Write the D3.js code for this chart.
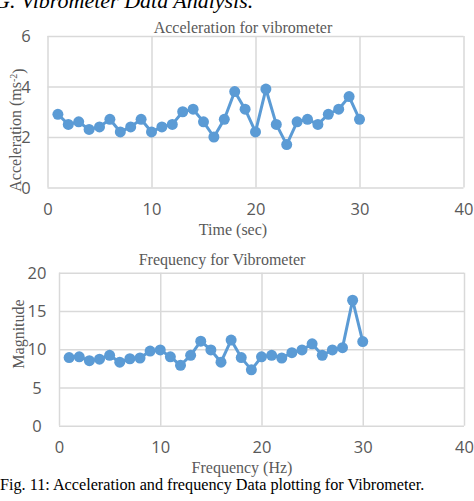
<!DOCTYPE html>
<html>
<head>
<meta charset="utf-8">
<script src="https://cdn.jsdelivr.net/npm/d3@7"></script>
<style>
  body { margin: 0; background: #fff; }
  svg { display: block; }
  .tick text { font-family: "Open Sans", sans-serif; font-size: 16.5px; fill: #595959; }
  .serif { font-family: "Liberation Serif", "Times New Roman", serif; }
</style>
</head>
<body>
<div id="chart"></div>
<script>
const width = 474;
const height = 501;

// acceleration (ms^-2) sampled every second
const timeSec = d3.range(1, 31);
const accel = [2.9, 2.5, 2.6, 2.3, 2.4, 2.7, 2.2, 2.4, 2.7, 2.2,
               2.4, 2.5, 3.0, 3.1, 2.6, 2.0, 2.7, 3.8, 3.1, 2.2,
               3.9, 2.5, 1.7, 2.6, 2.7, 2.5, 2.9, 3.1, 3.6, 2.7];

// frequency magnitude per Hz
const freqHz = d3.range(1, 31);
const magnitude = [8.9, 9.0, 8.5, 8.7, 9.2, 8.3, 8.75, 8.85, 9.75, 9.9,
                   9.0, 7.9, 9.2, 11.05, 9.9, 8.3, 11.2, 8.9, 7.3, 9.0,
                   9.2, 8.85, 9.55, 9.9, 10.7, 9.2, 9.9, 10.2, 16.4, 11.0];

const accelTicks = [0, 2, 4, 6];
const magTicks = [0, 5, 10, 15, 20];
const xTicks = [0, 10, 20, 30, 40];

const blue = "#5b9bd5";
const grid = "#d9d9d9";
const grey = "#595959";

const svg = d3.select("#chart")
  .append("svg")
  .attr("width", width)
  .attr("height", height);

// section heading, cut off at the top of the page like the scan
svg.append("text")
  .attr("class", "serif")
  .attr("x", -6)
  .attr("y", 8)
  .style("font-size", "22px")
  .style("font-style", "italic")
  .attr("fill", "#000")
  .text("G. Vibrometer Data Analysis.");

function drawChart(cfg) {
  const x = d3.scaleLinear().domain([0, 40]).range([cfg.left, cfg.right]);
  const y = d3.scaleLinear().domain(cfg.yDomain).range([cfg.bottom, cfg.top]);
  const g = svg.append("g");

  // gridlines (also form the plot frame)
  g.append("g")
    .attr("transform", `translate(${cfg.left},0)`)
    .call(d3.axisLeft(y).tickValues(cfg.yTicks).tickFormat("").tickSize(-(cfg.right - cfg.left)))
    .call(a => a.select(".domain").remove())
    .selectAll("line").attr("stroke", grid).attr("stroke-width", 1.5);

  g.append("g")
    .attr("transform", `translate(0,${cfg.bottom})`)
    .call(d3.axisBottom(x).tickValues(xTicks).tickFormat("").tickSize(-(cfg.bottom - cfg.top)))
    .call(a => a.select(".domain").remove())
    .selectAll("line").attr("stroke", grid).attr("stroke-width", 1.5);

  // tick labels
  g.append("g")
    .attr("transform", `translate(${cfg.yLabelX},0)`)
    .call(d3.axisLeft(y).tickValues(cfg.yTicks).tickFormat(d3.format("d")).tickSize(0).tickPadding(0))
    .call(a => a.select(".domain").remove())
    .selectAll("text").attr("text-anchor", "middle").attr("dy", "0.35em");

  g.append("g")
    .attr("transform", `translate(0,${cfg.bottom})`)
    .call(d3.axisBottom(x).tickValues(xTicks).tickFormat(d3.format("d")).tickSize(0).tickPadding(cfg.xPad))
    .call(a => a.select(".domain").remove());

  // series
  const pts = cfg.xs.map((d, i) => [d, cfg.ys[i]]);
  g.append("path")
    .datum(pts)
    .attr("fill", "none")
    .attr("stroke", blue)
    .attr("stroke-width", 3)
    .attr("stroke-linejoin", "round")
    .attr("d", d3.line().x(d => x(d[0])).y(d => y(d[1])));

  g.append("g")
    .selectAll("circle")
    .data(pts)
    .join("circle")
    .attr("cx", d => x(d[0]))
    .attr("cy", d => y(d[1]))
    .attr("r", 5.5)
    .attr("fill", blue);

  // title and axis titles
  g.append("text")
    .attr("class", "serif")
    .attr("x", cfg.titleX)
    .attr("y", cfg.titleY)
    .attr("text-anchor", "middle")
    .style("font-size", "16px")
    .attr("fill", grey)
    .text(cfg.title);

  g.append("text")
    .attr("class", "serif")
    .attr("x", cfg.xTitleX)
    .attr("y", cfg.xTitleY)
    .attr("text-anchor", "middle")
    .style("font-size", "16px")
    .attr("fill", grey)
    .text(cfg.xTitle);

  const yt = g.append("text")
    .attr("class", "serif")
    .attr("transform", `translate(${cfg.yTitleX},${cfg.yTitleY}) rotate(-90)`)
    .attr("text-anchor", "middle")
    .style("font-size", "16px")
    .attr("fill", grey);
  yt.append("tspan").text(cfg.yTitle);
  if (cfg.ySup) {
    yt.append("tspan").attr("dy", "-0.45em").style("font-size", "10px").text(cfg.ySup);
    yt.append("tspan").attr("dy", "0.45em").text(")");
  }
}

drawChart({
  xs: timeSec, ys: accel,
  yDomain: [0, 6], yTicks: accelTicks,
  left: 47.5, right: 463.5, top: 36, bottom: 187.5,
  yLabelX: 26, xPad: 16,
  title: "Acceleration for vibrometer", titleX: 243, titleY: 33,
  xTitle: "Time (sec)", xTitleX: 233, xTitleY: 235,
  yTitle: "Acceleration (ms", ySup: "-2", yTitleX: 21, yTitleY: 130
});

drawChart({
  xs: freqHz, ys: magnitude,
  yDomain: [0, 20], yTicks: magTicks,
  left: 59, right: 464, top: 272.7, bottom: 425.7,
  yLabelX: 37, xPad: 16,
  title: "Frequency for Vibrometer", titleX: 222, titleY: 265,
  xTitle: "Frequency (Hz)", xTitleX: 242, xTitleY: 473,
  yTitle: "Magnitude", ySup: null, yTitleX: 24, yTitleY: 334
});

// figure caption
svg.append("text")
  .attr("class", "serif")
  .attr("x", 0)
  .attr("y", 490)
  .style("font-size", "16.2px")
  .attr("fill", "#000")
  .text("Fig. 11: Acceleration and frequency Data plotting for Vibrometer.");
</script>
</body>
</html>
